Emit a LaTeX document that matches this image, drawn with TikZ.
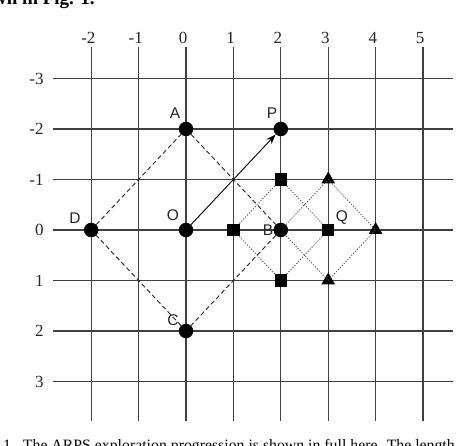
\documentclass[tikz,border=0pt]{standalone}
\usepackage{fontspec}
\setmainfont{Liberation Serif}
\newfontfamily\lsans{Liberation Sans}
\usetikzlibrary{arrows.meta,shapes.geometric}
\tikzset{
  gridline/.style={draw=black!75, line width=1.1pt},
  axislab/.style={font=\fontsize{17}{20}\selectfont, text=black!85, inner sep=0pt},
  ptlab/.style={font=\lsans\fontsize{15.5}{18}\selectfont, text=black!85, inner sep=0pt},
  dot/.style={circle, fill=black, minimum width=13.5pt, minimum height=14.5pt, inner sep=0pt},
  sq/.style={rectangle, fill=black, minimum size=12.5pt, inner sep=0pt},
  tri/.style={regular polygon, regular polygon sides=3, fill=black, minimum size=16pt, inner sep=0pt},
  dashline/.style={draw=black!85, line width=0.9pt, dash pattern=on 4.5pt off 3pt},
  dotline/.style={draw=black!70, line width=0.8pt, dash pattern=on 1.2pt off 1.6pt},
  arrowline/.style={draw=black, line width=0.9pt, -{Stealth[length=10pt,width=7pt]}},
}
\begin{document}
\begin{tikzpicture}[x=1pt,y=1pt]
\useasboundingbox (0,0) rectangle (474,445);
% partial caption texts cut by the frame
\node[anchor=base west, inner sep=0pt, font=\bfseries\fontsize{19}{22}\selectfont] (toptext) at (-7,440.5) {wn in Fig. 1.};
\node[anchor=base west, inner sep=0pt, font=\fontsize{15.8}{18}\selectfont] (bottext) at (3,-5) {1.\ \ The ARPS exploration progression is shown in full here. The length};
\begin{scope}[shift={(186,215)}, x=47.4pt, y=-50.5pt]
  % grid
  \foreach \i in {-2,...,5} {
    \draw[gridline] (\i,-3.62) -- (\i,3.78);
    \node[axislab, anchor=base] (col\i) at (\i-0.06,-3.70) {\i};
  }
  \foreach \j in {-3,...,3} {
    \draw[gridline] (-2.81,\j) -- (5.63,\j);
    \node[axislab, anchor=east] (row\j) at (-3.0,\j) {\j};
  }
  % markers
  \node[dot] (A) at (0,-2) {};
  \node[dot] (O) at (0,0) {};
  \node[dot] (D) at (-2,0) {};
  \node[dot] (C) at (0,2) {};
  \node[dot] (P) at (2,-2) {};
  \node[dot] (B) at (2,0) {};
  \node[sq] (s1) at (1,0) {};
  \node[sq] (s2) at (2,-1) {};
  \node[sq] (Qs) at (3,0) {};
  \node[sq] (s4) at (2,1) {};
  \node[tri] (t1) at (3,-1) {};
  \node[tri] (t2) at (4,0) {};
  \node[tri] (t3) at (3,1) {};
  % connectors
  \draw[dashline] (D) -- (A);
  \draw[dashline] (A) -- (B);
  \draw[dashline] (B) -- (C);
  \draw[dashline] (C) -- (D);
  \draw[dotline] (s1) -- (s2) -- (Qs) -- (s4) -- (s1);
  \draw[dotline] (B) -- (t1.center) -- (t2.center) -- (t3.center) -- (B);
  \draw[arrowline] (O) -- (P);
\end{scope}
% point labels
\node[ptlab] (lA) at (175,332) {A};
\node[ptlab] (lO) at (173,230) {O};
\node[ptlab] (lD) at (75,227) {D};
\node[ptlab] (lP) at (272,332) {P};
\node[ptlab] (lB) at (268,215) {B};
\node[ptlab] (lQ) at (342,227) {Q};
\node[ptlab] (lC) at (173,125) {C};
\end{tikzpicture}
\end{document}
